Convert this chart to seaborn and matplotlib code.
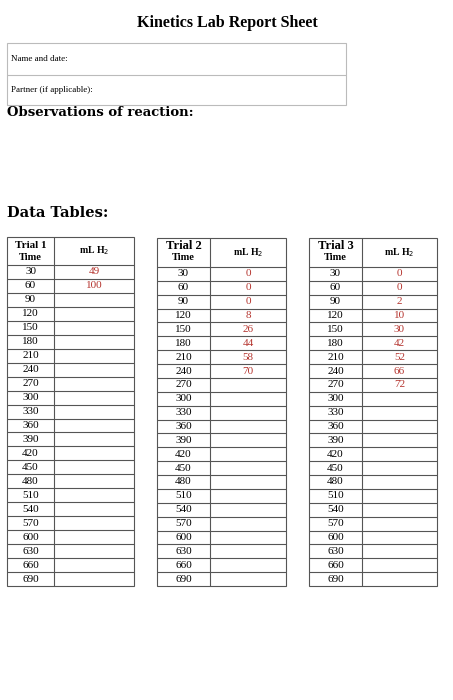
import matplotlib
matplotlib.use("Agg")
import matplotlib.pyplot as plt
import seaborn as sns

sns.set_theme(style="white")
plt.rcParams['font.family'] = ['Liberation Serif', 'DejaVu Serif']
plt.rcParams['text.color'] = 'black'

times = [30, 60, 90, 120, 150, 180, 210, 240, 270, 300, 330, 360, 390,
         420, 450, 480, 510, 540, 570, 600, 630, 660, 690]
trial1 = [49, 100]
trial2 = [0, 0, 0, 8, 26, 44, 58, 70]
trial3 = [0, 0, 2, 10, 30, 42, 52, 66, 72]
trial_names = ["Trial 1", "Trial 2", "Trial 3"]

RED = "#b5352f"
LINE = "#555555"

fig = plt.figure(figsize=(4.53, 7.0), dpi=100)
ax = fig.add_axes([0, 0, 1, 1])
ax.set_xlim(0, 453)
ax.set_ylim(700, 0)
ax.axis("off")

ax.text(227, 23, "Kinetics Lab Report Sheet", ha="center", va="center",
        fontsize=11.5, fontweight="bold")

# name / partner box
ax.add_patch(plt.Rectangle((7, 43), 339, 62, fill=False, ec="#bbbbbb", lw=0.8))
ax.plot([7, 346], [75, 75], color="#bbbbbb", lw=0.8)
ax.text(11, 59, "Name and date:", va="center", fontsize=6.5)
ax.text(11, 90, "Partner (if applicable):", va="center", fontsize=6.5)

ax.text(7, 113, "Observations of reaction:", va="center", fontsize=9.5,
        fontweight="bold", family=["DejaVu Serif"])
ax.text(7, 213, "Data Tables:", va="center", fontsize=10.5,
        fontweight="bold", family=["DejaVu Serif"])

tables = [(7, 54, 134, 237, 265, trial1),
          (157, 210, 286, 238, 267, trial2),
          (309, 362, 437, 238, 267, trial3)]
bottom = 586
for name, (x0, xs, x1, top, hb, vals) in zip(trial_names, tables):
    rh = (bottom - hb) / len(times)
    ax.add_patch(plt.Rectangle((x0, top), x1 - x0, bottom - top, fill=False,
                               ec=LINE, lw=0.8))
    ax.plot([xs, xs], [top, bottom], color=LINE, lw=0.8)
    for i in range(len(times)):
        y = hb + i * rh
        ax.plot([x0, x1], [y, y], color=LINE, lw=0.8)
    bold = 8 if name == "Trial 1" else 9
    ax.text((x0 + xs) / 2, top + 8, name, ha="center", va="center",
            fontsize=bold, fontweight="bold")
    ax.text((x0 + xs) / 2, top + 20, "Time", ha="center", va="center",
            fontsize=7.5, fontweight="bold")
    ax.text((xs + x1) / 2, (top + hb) / 2, "mL H$_2$", ha="center",
            va="center", fontsize=7, fontweight="bold")
    for i, t in enumerate(times):
        yc = hb + (i + 0.5) * rh
        ax.text((x0 + xs) / 2, yc, str(t), ha="center", va="center",
                fontsize=8)
        if i < len(vals):
            ax.text((xs + x1) / 2, yc, str(vals[i]), ha="center",
                    va="center", fontsize=8, color=RED)

fig.savefig("out.png", dpi=100)
